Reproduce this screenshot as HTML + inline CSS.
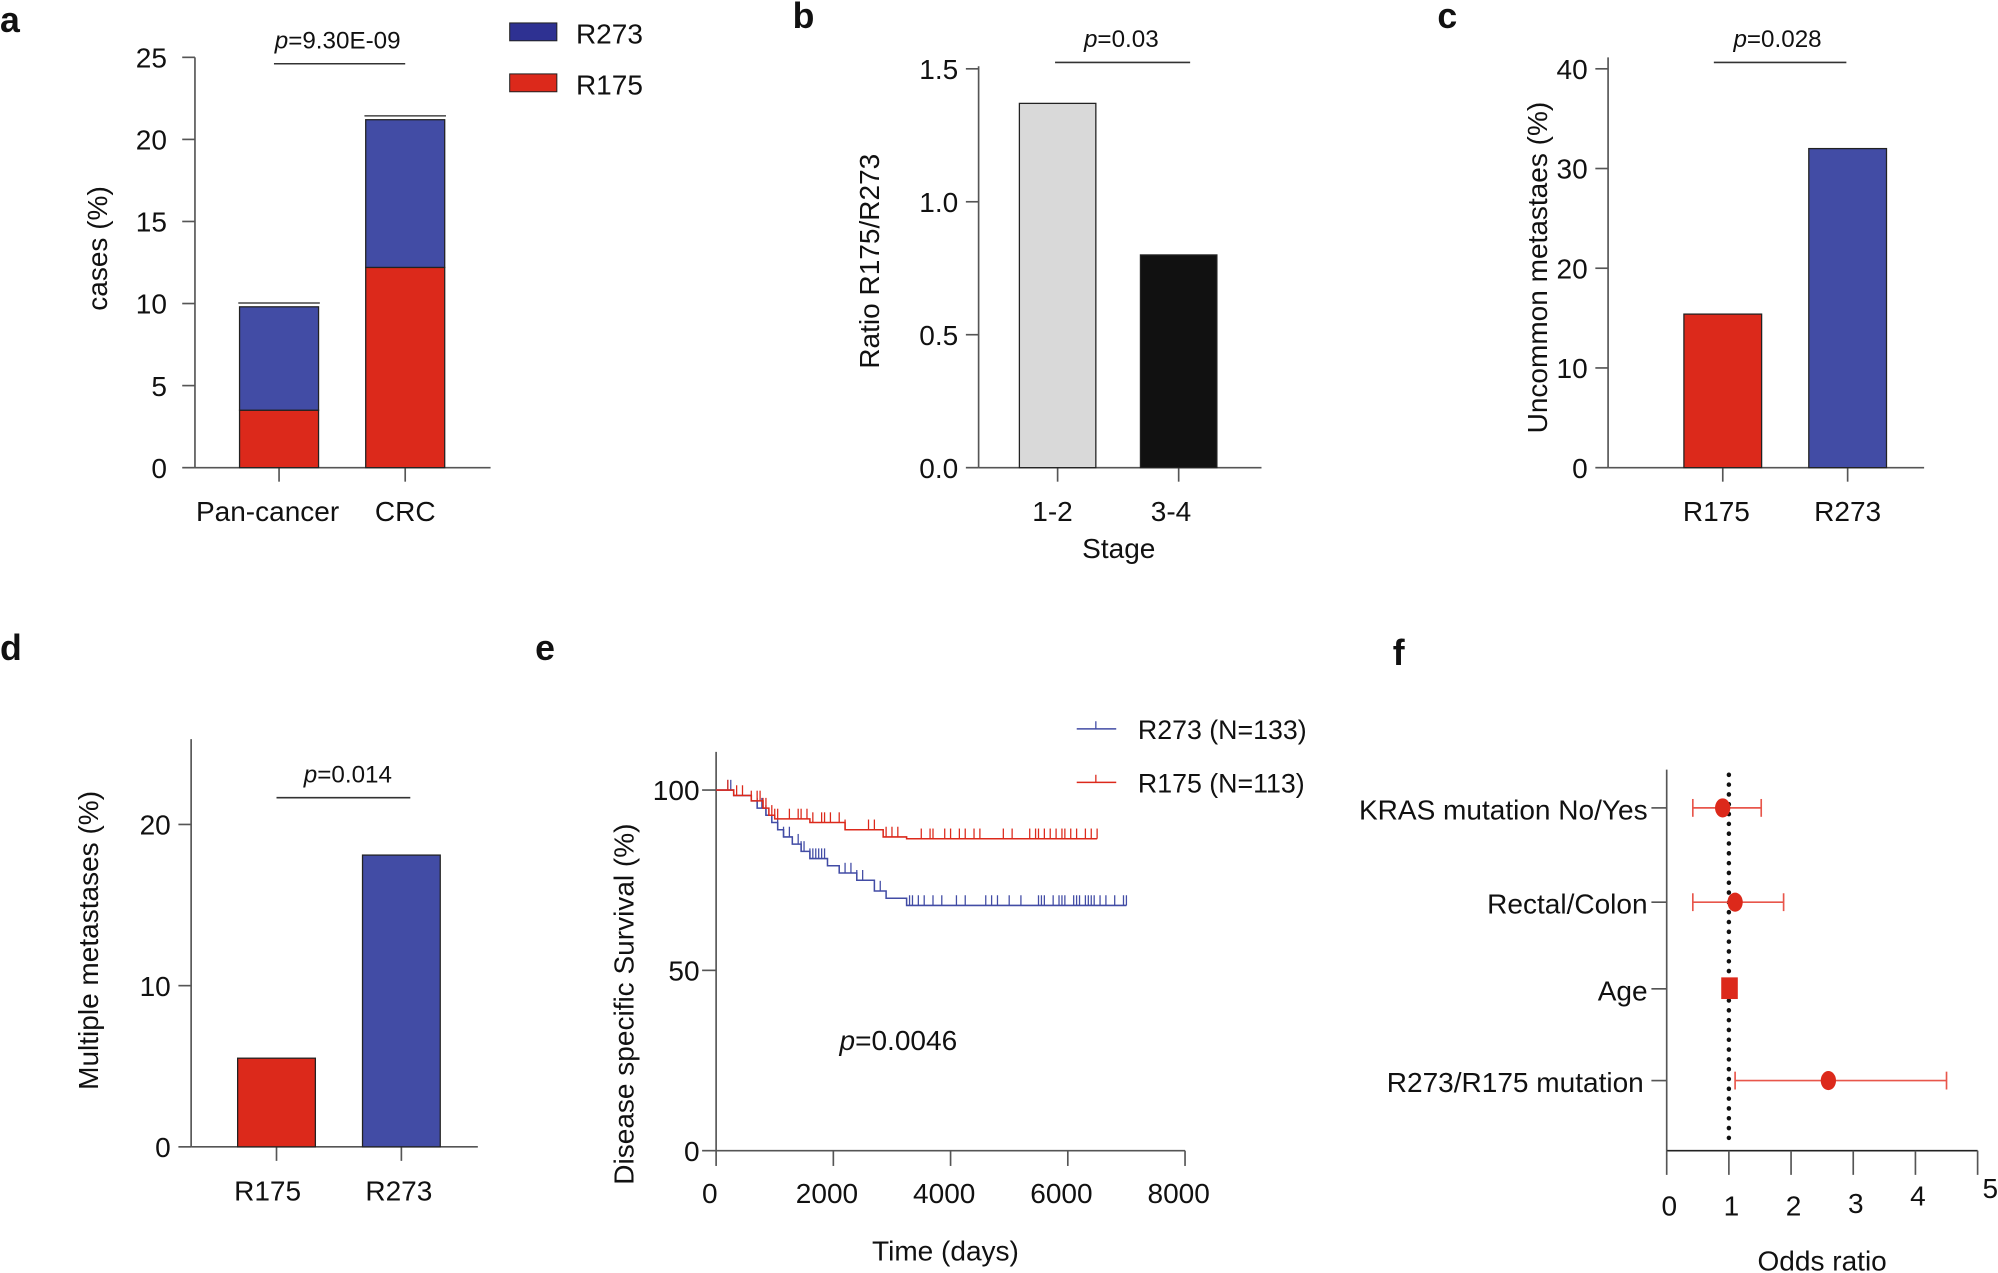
<!DOCTYPE html>
<html><head><meta charset="utf-8"><style>
html,body{margin:0;padding:0;background:#fff;}
svg{display:block;font-family:"Liberation Sans",Arial,sans-serif;}
</style></head><body>
<svg id="fig" width="1998" height="1273" viewBox="0 0 1568 999" preserveAspectRatio="none" xmlns="http://www.w3.org/2000/svg"></svg>
<script>
// ---- data ----
const aCats = ["Pan-cancer","CRC"];
const aR175 = [3.5, 12.2];
const aR273 = [6.3, 9.0];
const aTicks = [0,5,10,15,20,25];
const bCats = ["1-2","3-4"];
const bVals = [1.37, 0.80];
const bTicks = [0.0,0.5,1.0,1.5];
const cCats = ["R175","R273"];
const cVals = [15.4, 32.0];
const cTicks = [0,10,20,30,40];
const dCats = ["R175","R273"];
const dVals = [5.5, 18.1];
const dTicks = [0,10,20];
const eXTicks = [0,2000,4000,6000,8000];
const eYTicks = [0,50,100];
const blueT = [0,300,600,700,850,950,1050,1150,1300,1450,1600,1900,2100,2400,2700,2900,3250,7000];
const blueS = [100,98.5,97,95,93,91,89,87,85,83,81,79,77,75,72,70,68,68];
const blueCens = [200,250,700,780,850,1050,1150,1250,1400,1450,1500,1600,1650,1700,1750,1800,1850,2200,2300,2400,2500,2800,3300,3350,3450,3550,3700,3850,4100,4250,4600,4700,4800,5000,5200,5500,5550,5600,5750,5850,5900,5950,6100,6150,6200,6300,6350,6400,6450,6550,6650,6800,6950,7000];
const redT = [0,300,600,800,900,1000,1600,2200,2850,3250,6500];
const redS = [100,98.5,97,95,93,92,91,89,87,86.5,86.5];
const redCens = [200,350,450,600,700,750,800,850,950,1000,1050,1250,1400,1450,1550,1650,1800,1850,1950,2100,2200,2600,2700,2900,3000,3100,3500,3650,3700,3900,4000,4150,4250,4400,4500,4900,5050,5350,5450,5500,5600,5700,5800,5900,5950,6050,6150,6300,6400,6500];
const fLabels = ["KRAS mutation No/Yes","Rectal/Colon","Age","R273/R175 mutation"];
const fOR = [0.9, 1.1, 1.0, 2.6];
const fLo = [0.42, 0.42, null, 1.1];
const fHi = [1.52, 1.88, null, 4.5];
const fTicks = [0,1,2,3,4,5];

const BLUE="#424ca5", RED="#dc291b", AX="#555";
const svg=document.getElementById('fig');
function el(tag,attrs,parent){const e=document.createElementNS('http://www.w3.org/2000/svg',tag);for(const k in attrs)e.setAttribute(k,attrs[k]);(parent||svg).appendChild(e);return e;}
function txt(s,x,y,size,anchor,parent,extra){const t=el('text',Object.assign({x:x,y:y,'font-size':size,'text-anchor':anchor||'middle',fill:'#111'},extra||{}),parent);t.textContent=s;return t;}
function grp(name){const g=el('g',{});return g;}

// generic bar panel
function barPanel(o){
  const g=grp(o.name);
  const ys=v=>o.y0-(v-o.vmin)/(o.vmax-o.vmin)*(o.y0-o.ytop);
  const ax=el('line',{x1:o.ax,y1:o.y0,x2:o.ax,y2:o.axTop,stroke:AX,'stroke-width':1.3},g);
  
  const xa=el('line',{x1:o.ax,y1:o.y0,x2:o.axEnd,y2:o.y0,stroke:AX,'stroke-width':1.3},g);
  
  o.ticks.forEach(v=>{const y=ys(v);el('line',{x1:o.ax-10,y1:y,x2:o.ax,y2:y,stroke:AX,'stroke-width':1.3},g);
    const t=txt(o.fmt?o.fmt(v):String(v),o.ax-16,y+8,22,'end',g);});
  o.cats.forEach((c,i)=>{const cx=o.cx[i];el('line',{x1:cx,y1:o.y0,x2:cx,y2:o.y0+11,stroke:AX,'stroke-width':1.3},g);
    const t=txt(c,cx+(o.lblOff?o.lblOff[i]:0),o.y0+42,22,'middle',g);
    const r=el('rect',{x:cx-o.bw/2,y:ys(o.vals[i]),width:o.bw,height:o.y0-ys(o.vals[i]),fill:o.colors[i],stroke:'#222','stroke-width':1},g);
    });
  const yt=txt(o.ytitle,0,0,22,'middle',g,{transform:`translate(${o.ytx},${o.yty}) rotate(-90)`});
  
  pval(o.p,o.px,o.py,o.pl1,o.pl2,g);
  return {g,ys};
}
function pval(s,x,y,l1,l2,g){const t=el('text',{x:x,y:y,'font-size':19,'text-anchor':'middle',fill:'#111'},g);
  
  const i=el('tspan',{'font-style':'italic'},t);i.textContent='p';const r=el('tspan',{},t);r.textContent=s;
  el('line',{x1:l1,y1:y+12,x2:l2,y2:y+12,stroke:'#333','stroke-width':1.2},g);}
function letter(s,x,y){const t=txt(s,x,y,28,'start',null,{'font-weight':'bold'});}

// panel a (stacked)
letter('a',0,25);
(function(){
  const g=grp('panel-a');const y0=367,ytop=45;const ys=v=>y0-v/25*(y0-ytop);
  el('line',{x1:153,y1:y0,x2:153,y2:45,stroke:AX,'stroke-width':1.3},g);
  el('line',{x1:153,y1:y0,x2:385,y2:y0,stroke:AX,'stroke-width':1.3},g);
  aTicks.forEach(v=>{const y=ys(v);el('line',{x1:143,y1:y,x2:153,y2:y,stroke:AX,'stroke-width':1.3},g);
    const t=txt(String(v),131,y+8,22,'end',g);});
  const cx=[219,318];
  aCats.forEach((c,i)=>{const x=cx[i]-31;
    el('line',{x1:cx[i],y1:y0,x2:cx[i],y2:y0+11,stroke:AX,'stroke-width':1.3},g);
    const r1=el('rect',{x:x,y:ys(aR175[i]),width:62,height:y0-ys(aR175[i]),fill:RED,stroke:'#222','stroke-width':1},g);
    
    const top=aR175[i]+aR273[i];
    const r2=el('rect',{x:x,y:ys(top),width:62,height:ys(aR175[i])-ys(top),fill:BLUE,stroke:'#222','stroke-width':1},g);
    
    el('line',{x1:x-1,y1:ys(top)-3,x2:x+63,y2:ys(top)-3,stroke:'#222','stroke-width':1},g);
    const t=txt(c,cx[i]-(i==0?9:0),y0+42,22,'middle',g);});
  const yt=txt('cases (%)',0,0,22,'middle',g,{transform:'translate(84,195) rotate(-90)'});
  pval('=9.30E-09',265,38,215,318,g);
  const l1=el('rect',{x:400,y:18,width:37,height:14,fill:'#2e3192',stroke:'#222','stroke-width':0.8},g);
  const t1=txt('R273',452,34,22,'start',g);
  const l2=el('rect',{x:400,y:58,width:37,height:14,fill:RED,stroke:'#222','stroke-width':0.8},g);
  const t2=txt('R175',452,74,22,'start',g);
})();

// panel b
letter('b',622,22);
barPanel({name:'panel-b',ax:768,y0:367,ytop:54,axTop:52,vmin:0,vmax:1.5,axEnd:990,ticks:bTicks,fmt:v=>v.toFixed(1),
  cats:bCats,cx:[830,925],lblOff:[-4,-6],bw:60,vals:bVals,colors:['#d9d9d9','#111'],ytitle:'Ratio R175/R273',ytx:690,yty:205,
  p:'=0.03',px:880,py:37,pl1:828,pl2:934});
txt('Stage',878,438,22,'middle');

// panel c
letter('c',1128,22);
barPanel({name:'panel-c',ax:1262,y0:367,ytop:54,axTop:45,vmin:0,vmax:40,axEnd:1510,ticks:cTicks,
  cats:cCats,cx:[1352,1450],lblOff:[-5,0],bw:61,vals:cVals,colors:[RED,BLUE],ytitle:'Uncommon metastaes (%)',ytx:1214,yty:210,
  p:'=0.028',px:1395,py:37,pl1:1345,pl2:1449});

// panel d
letter('d',0,518);
barPanel({name:'panel-d',ax:150,y0:900,ytop:647,axTop:580,vmin:0,vmax:20,axEnd:375,ticks:dTicks,
  cats:dCats,cx:[217,315],lblOff:[-7,-2],bw:61,vals:dVals,colors:[RED,BLUE],ytitle:'Multiple metastases (%)',ytx:77,yty:738,
  p:'=0.014',px:273,py:614,pl1:217,pl2:322});

// panel e (KM)
letter('e',420,518);
(function(){
  const g=grp('panel-e');
  const xs=t=>562+t/8000*368, ys=s=>903-s/100*283;
  el('line',{x1:562,y1:590,x2:562,y2:903,stroke:AX,'stroke-width':1.3},g);
  el('line',{x1:562,y1:903,x2:930,y2:903,stroke:AX,'stroke-width':1.3},g);
  eYTicks.forEach(v=>{el('line',{x1:551,y1:ys(v),x2:562,y2:ys(v),stroke:AX,'stroke-width':1.3},g);
    const t=txt(String(v),549,ys(v)+8,22,'end',g);});
  eXTicks.forEach(v=>{el('line',{x1:xs(v),y1:903,x2:xs(v),y2:915,stroke:AX,'stroke-width':1.3},g);
    const t=txt(String(v),xs(v)-5,944,22,'middle',g);});
  function curve(T,S,C,col,name){
    let d=`M${xs(T[0])},${ys(S[0])}`;
    for(let i=1;i<T.length;i++){d+=`H${xs(T[i])}V${ys(S[i])}`;}
    const p=el('path',{d:d,fill:'none',stroke:col,'stroke-width':1.2},g);
    
    C.forEach(t=>{let s=S[0];for(let i=0;i<T.length;i++){if(T[i]<=t)s=S[i];}
      const m=el('line',{x1:xs(t),y1:ys(s),x2:xs(t),y2:ys(s)-8,stroke:col,'stroke-width':1},g);
      });
  }
  curve(blueT,blueS,blueCens,BLUE,'r273');
  curve(redT,redS,redCens,RED,'r175');
  el('line',{x1:845,y1:572,x2:876,y2:572,stroke:BLUE,'stroke-width':1.2},g);el('line',{x1:860,y1:566,x2:860,y2:572,stroke:BLUE},g);
  const l1=txt('R273 (N=133)',893,580,21,'start',g);
  el('line',{x1:845,y1:614,x2:876,y2:614,stroke:RED,'stroke-width':1.2},g);el('line',{x1:860,y1:608,x2:860,y2:614,stroke:RED},g);
  const l2=txt('R175 (N=113)',893,622,21,'start',g);
  const pt=el('text',{x:705,y:824,'font-size':22,'text-anchor':'middle',fill:'#111'},g);
  const pi=el('tspan',{'font-style':'italic'},pt);pi.textContent='p';const pr=el('tspan',{},pt);pr.textContent='=0.0046';
  const yt=txt('Disease specific Survival (%)',0,0,22,'middle',g,{transform:'translate(497,788) rotate(-90)'});
  const xt=txt('Time (days)',742,989,22,'middle',g);
})();

// panel f (forest)
letter('f',1093,522);
(function(){
  const g=grp('panel-f');
  const xs=v=>1308+v*48.8; const rowY=[634,708,776,848];
  el('line',{x1:1308,y1:604,x2:1308,y2:903,stroke:AX,'stroke-width':1.3},g);
  el('line',{x1:1308,y1:903,x2:1552,y2:903,stroke:'#222','stroke-width':1.3},g);
  fTicks.forEach(v=>{el('line',{x1:xs(v),y1:903,x2:xs(v),y2:922,stroke:AX,'stroke-width':1.3},g);
    const t=txt(String(v),xs(v)+2+(v==5?8:0),v==5?940:954-(v>=3?2:0)-(v==4?6:0),22,'middle',g);});
  const dl=el('line',{x1:xs(1),y1:608,x2:xs(1),y2:895,stroke:'#111','stroke-width':3.5,'stroke-dasharray':'0.1 7.6','stroke-linecap':'round'},g);
  
  fLabels.forEach((lab,i)=>{const y=rowY[i];
    el('line',{x1:1296,y1:y,x2:1308,y2:y,stroke:AX,'stroke-width':1.3},g);
    const t=txt(lab,1293-(i==3?3:0),y+9,22,'end',g);
    if(fLo[i]!==null){
      el('line',{x1:xs(fLo[i]),y1:y,x2:xs(fHi[i]),y2:y,stroke:'#e8564b','stroke-width':1.3},g);
      el('line',{x1:xs(fLo[i]),y1:y-7,x2:xs(fLo[i]),y2:y+7,stroke:'#e8564b','stroke-width':1.3},g);
      el('line',{x1:xs(fHi[i]),y1:y-7,x2:xs(fHi[i]),y2:y+7,stroke:'#e8564b','stroke-width':1.3},g);
      const c=el('ellipse',{cx:xs(fOR[i]),cy:y,rx:6,ry:7.5,fill:RED},g);
    } else {
      const r=el('rect',{x:xs(fOR[i])-6,y:y-9,width:13,height:17,fill:RED},g);
    }
  });
  const xt=txt('Odds ratio',1430,997,22,'middle',g);
})();
</script>
</body></html>
